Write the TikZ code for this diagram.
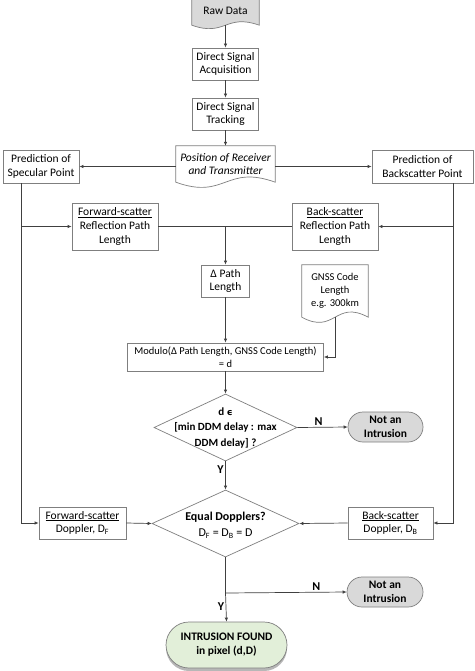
\documentclass[tikz,border=0pt]{standalone}
\usepackage{fontspec}
\setmainfont{Carlito}
\newfontfamily\dejavu{DejaVu Sans}
\usetikzlibrary{shapes.geometric,shapes.misc,arrows.meta,calc,shadows}
\pgfdeclarelayer{bg}
\pgfdeclarelayer{background}
\pgfsetlayers{bg,background,main}
\definecolor{bordercol}{HTML}{7F7F7F}
\definecolor{linecol}{HTML}{404040}
\definecolor{grayfill}{HTML}{D9D9D9}
\definecolor{greenfill}{HTML}{E2EFD9}
\newcommand{\docpath}[3]{%
  \begin{pgfonlayer}{background}
  \path[draw=bordercol,line width=0.7pt,fill=#2] (#1.north west) -- (#1.north east) -- (#1.south east)
    .. controls ($(#1.south)+(0,-#3)$) and ($(#1.south)+(0,#3)$) .. (#1.south west) -- cycle;
  \end{pgfonlayer}}
\begin{document}
\begin{tikzpicture}[x=1pt,y=-1pt,
  txt/.style={font=\fontsize{11.5}{13.8}\selectfont, align=center, text=black},
  box/.style={txt, draw=bordercol, line width=0.7pt, fill=white, rectangle, inner sep=0pt},
  docnode/.style={txt, inner sep=0pt, rectangle},
  term/.style={txt, font=\fontsize{11.5}{13.8}\selectfont\bfseries, draw=bordercol, line width=0.7pt, rounded rectangle, inner sep=0pt},
  dia/.style={diamond, draw=bordercol, line width=0.7pt, fill=white, inner sep=0pt},
  conn/.style={draw=linecol, line width=0.7pt},
  arr/.style={conn, -{Latex[length=4pt,width=3.5pt]}},
  lbl/.style={font=\fontsize{12}{14}\selectfont\bfseries, inner sep=1.5pt}
]
\begin{pgfonlayer}{bg}
\fill[white] (0,0) rectangle (474,671);
\end{pgfonlayer}
\useasboundingbox (0,0) rectangle (474,671);

% column nodes
\node[docnode, minimum width=67, minimum height=28] (raw) at (225.5,11) {Raw Data};
\docpath{raw}{grayfill}{12}
\node[box, minimum width=66, minimum height=32] (acq) at (225.5,64) {Direct Signal\\Acquisition};
\node[box, minimum width=66, minimum height=32] (trk) at (225.5,114) {Direct Signal\\Tracking};
\node[docnode, minimum width=99, minimum height=36, font=\fontsize{11.5}{13.8}\selectfont\itshape] (pos) at (225.5,164) {Position of Receiver\\and Transmitter};
\docpath{pos}{white}{18}

\node[box, minimum width=76, minimum height=33] (spec) at (41,166.5) {Prediction of\\Specular Point};
\node[box, minimum width=101, minimum height=33] (back) at (422.5,166.5) {Prediction of\\Backscatter Point};

\node[box, minimum width=86, minimum height=47] (fsrefl) at (115,226.5) {\underline{Forward-scatter}\\Reflection Path\\Length};
\node[box, minimum width=86, minimum height=47] (bsrefl) at (335,226.5) {\underline{Back-scatter}\\Reflection Path\\Length};

\node[box, minimum width=48, minimum height=32] (dpath) at (225.5,281) {Δ Path\\Length};
\node[docnode, minimum width=66, minimum height=52, font=\fontsize{10.5}{13}\selectfont] (gnss) at (335,291) {GNSS Code\\Length\\e.g. 300km};
\docpath{gnss}{white}{18}

\node[box, minimum width=196, minimum height=28, font=\fontsize{10.5}{13}\selectfont] (mod) at (225.5,357) {Modulo(Δ Path Length, GNSS Code Length)\\= d};

\node[dia, minimum width=143, minimum height=67] (dia1) at (225.5,427.5) {};
\node[txt, font=\fontsize{11}{15.5}\selectfont\bfseries, inner sep=0pt] (dia1t) at (225.5,428) {d {\dejavu\fontsize{9}{10}\selectfont ϵ}\\{[}min DDM delay : max\\DDM delay{]} ?};

\node[term, fill=grayfill, minimum width=75, minimum height=30] (ni1) at (385.5,427) {Not an\\Intrusion};

\node[dia, minimum width=147, minimum height=67] (dia2) at (225.5,523.5) {};
\node[txt, inner sep=0pt, font=\fontsize{12}{16}\selectfont] (dia2t) at (225.5,525) {\textbf{Equal Dopplers?}\\D\textsubscript{F} = D\textsubscript{B} = D};

\node[box, minimum width=87, minimum height=32] (fsdop) at (82.5,523) {\underline{Forward-scatter}\\Doppler, D\textsubscript{F}};
\node[box, minimum width=85, minimum height=32] (bsdop) at (390.5,523) {\underline{Back-scatter}\\Doppler, D\textsubscript{B}};

\node[term, fill=grayfill, minimum width=76, minimum height=30] (ni2) at (385,592) {Not an\\Intrusion};
\node[term, fill=greenfill, minimum width=121, minimum height=46,
      drop shadow={shadow xshift=0pt, shadow yshift=-3pt, fill=black!35, opacity=0.8}] (found) at (226.5,645) {INTRUSION FOUND\\in pixel (d,D)};

% coordinates
\coordinate (sb) at (21,183);
\coordinate (bb) at (453,183);
\coordinate (j1) at (225.5,226.5);
\coordinate (j2) at (225.5,593);

% connectors
\draw[arr] (raw.south) -- (acq.north);
\draw[arr] (acq.south) -- (trk.north);
\draw[arr] (trk.south) -- (pos.north);
\draw[arr] (pos.west |- spec.east) -- (spec.east);
\draw[arr] (pos.east |- back.west) -- (back.west);
\draw[arr] (sb) |- (fsrefl.west);
\draw[arr] (sb) |- (fsdop.west);
\draw[arr] (bb) |- (bsrefl.east);
\draw[arr] (bb) |- (bsdop.east);
\draw[conn] (fsrefl.east) -- (bsrefl.west);
\draw[arr] (j1) -- (dpath.north);
\draw[arr] (dpath.south) -- (mod.north);
\draw[arr] (gnss.south) |- (mod.east);
\draw[arr] (mod.south) -- (dia1.north);
\draw[arr] (dia1.east) -- node[lbl, above, pos=0.42] (n1) {N} (ni1.west);
\draw[arr] (dia1.south) -- node[lbl, left, pos=0.3] (y1) {Y} (dia2.north);
\draw[arr] (fsdop.east) -- (dia2.west);
\draw[arr] (bsdop.west) -- (dia2.east);
\draw[conn] (dia2.south) -- (j2);
\draw[arr] (j2) -- node[lbl, left, pos=0.48] (y2) {Y} (found.north);
\draw[arr] (j2) -- node[lbl, above, pos=0.75] (n2) {N} (ni2.west);
\end{tikzpicture}
\end{document}
